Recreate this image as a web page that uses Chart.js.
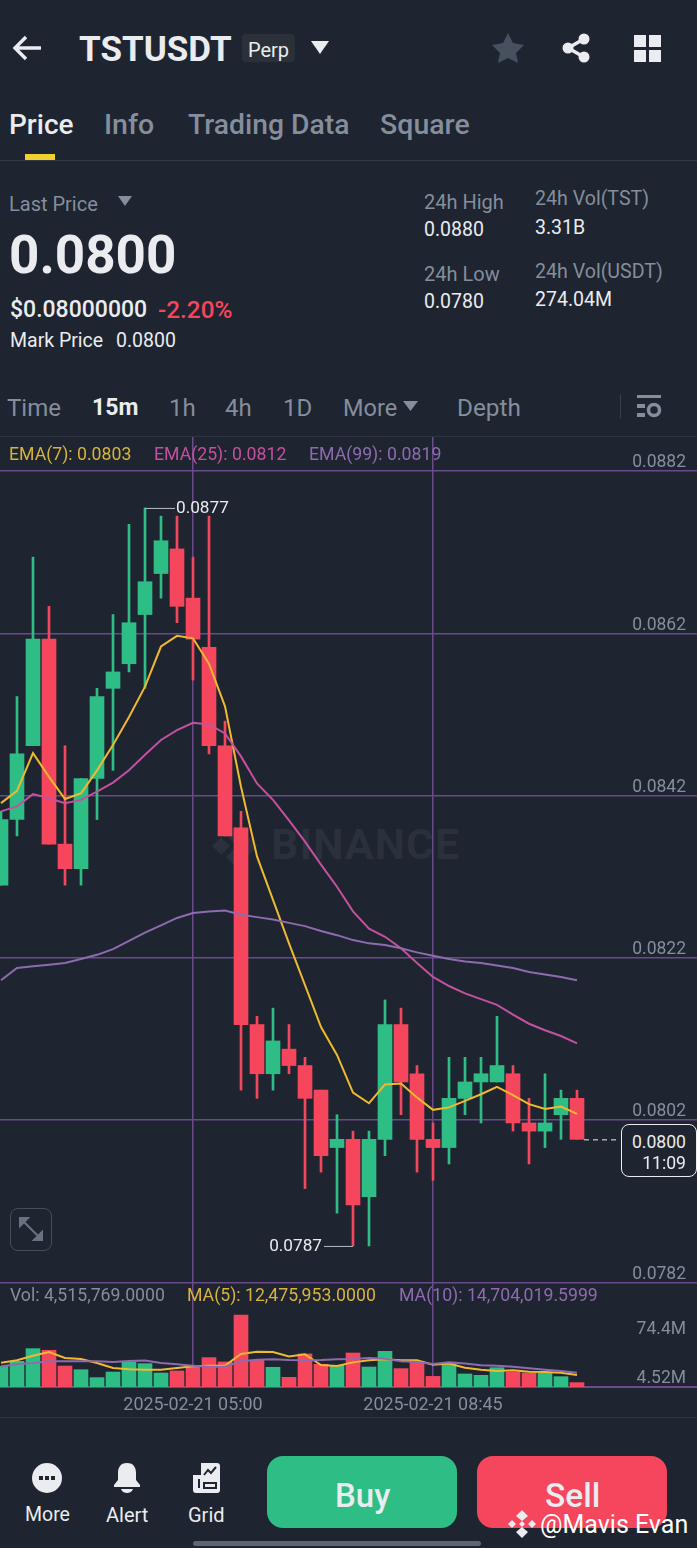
<!DOCTYPE html>
<html>
<head>
<meta charset="utf-8">
<title>TSTUSDT Perp</title>
<script src="https://cdn.jsdelivr.net/npm/chart.js@4"></script>
<style>
    html, body { margin: 0; padding: 0; background: #1e2430; }
    #page { position: relative; width: 697px; height: 1548px; overflow: hidden; background: #1e2430; font-family: Roboto, sans-serif; }
    #page canvas { position: absolute; left: 0; }
    .txt { position: absolute; white-space: nowrap; transform: translateY(-50%); line-height: 1.2; }
    .abs { position: absolute; }
    svg.abs { overflow: visible; }
</style>
</head>
<body>
<div id="page">
    <svg class="abs" style="left:212px;top:826px" width="50" height="40" viewBox="0 0 50 40"><path d="M23 0 L32 9 L23 18 L14 9Z M9 11 L18 20 L9 29 L0 20Z M37 11 L46 20 L37 29 L28 20Z M23 22 L32 31 L23 40 L14 31Z" fill="#2a303c"/></svg>
    <div class="txt" style="left:271px;top:845px;font-size:43px;font-weight:700;letter-spacing:1px;color:#2a303c">BINANCE</div>
    <canvas id="priceChart" width="697" height="847" style="top:437px"></canvas>
    <canvas id="volumeChart" width="697" height="133" style="top:1284px"></canvas>

    <svg class="abs" style="left:12px;top:34px" width="30" height="28" viewBox="0 0 30 28"><path d="M29 14H3M14 3L3 14L14 25" fill="none" stroke="#eaecef" stroke-width="3.4"/></svg>
    <div class="abs" style="left:242px;top:34px;width:53px;height:28px;border-radius:4px;background:#2b3139"></div>
    <svg class="abs" style="left:311px;top:41px" width="18" height="13"><path d="M0 0H18L9 13Z" fill="#eaecef"/></svg>
    <svg class="abs" style="left:492px;top:33px" width="32" height="30" viewBox="0 0 32 30"><path d="M16 0L21 10L32 12L24 20L26 30L16 25L6 30L8 20L0 12L11 10Z" fill="#47505f"/></svg>
    <svg class="abs" style="left:562px;top:33px" width="28" height="30" viewBox="0 0 28 30"><path d="M22 6L6 15L22 24" fill="none" stroke="#eaecef" stroke-width="3.5"/><circle cx="22" cy="6" r="5.5" fill="#eaecef"/><circle cx="6" cy="15" r="5.5" fill="#eaecef"/><circle cx="22" cy="24" r="5.5" fill="#eaecef"/></svg>
    <svg class="abs" style="left:634px;top:35px" width="27" height="27"><path d="M0 0H12V12H0ZM15 0H27V12H15ZM0 15H12V27H0ZM15 15H27V27H15Z" fill="#eaecef"/></svg>
    <div class="abs" style="left:25px;top:154px;width:30px;height:6px;background:#f0cf33"></div>
    <div class="abs" style="left:0;top:160px;width:697px;height:1px;background:#333a46"></div>
    <svg class="abs" style="left:118px;top:196px" width="14" height="10"><path d="M0 0H14L7 10Z" fill="#848e9c"/></svg>
    <svg class="abs" style="left:403px;top:401px" width="15" height="10"><path d="M0 0H15L7.5 10Z" fill="#848e9c"/></svg>
    <div class="abs" style="left:620px;top:394px;width:1px;height:24px;background:#3a414d"></div>
    <svg class="abs" style="left:637px;top:395px" width="24" height="24"><path d="M0 0H24V3H0ZM0 9H8V13H0ZM0 18H8V22H0Z" fill="#848e9c"/><circle cx="17" cy="15" r="5.5" fill="none" stroke="#848e9c" stroke-width="3.5"/></svg>
    <div class="abs" style="left:0;top:436px;width:697px;height:1px;background:#2d3340"></div>

    <div class="abs" style="left:10px;top:1208px;width:40px;height:41px;border:1.5px solid #474e5a;border-radius:8px"></div>
    <svg class="abs" style="left:19px;top:1217px" width="24" height="24"><path d="M1 1H9L1 9ZM23 23H15L23 15ZM5 5L19 19" fill="#6a7280" stroke="#6a7280" stroke-width="2"/></svg>
    <div class="abs" style="left:621px;top:1124px;width:74px;height:51px;border:1.2px solid #eaecef;border-radius:8px;background:#1e2430"></div>

    <div class="abs" style="left:0;top:1417px;width:697px;height:1px;background:#2d3340"></div>
    <svg class="abs" style="left:32px;top:1463px" width="30" height="30"><circle cx="15" cy="15" r="15" fill="#eaecef"/><path d="M7 13H11V17H7ZM13 13H17V17H13ZM19 13H23V17H19Z" fill="#1e2430"/></svg>
    <svg class="abs" style="left:113px;top:1463px" width="28" height="30" viewBox="0 0 28 30"><path d="M14 0C7 0 5 5 5 10V17L1 22V24H27V22L23 17V10C23 5 21 0 14 0ZM8 26H20C19 29 16 30 14 30C12 30 9 29 8 26Z" fill="#eaecef"/></svg>
    <svg class="abs" style="left:193px;top:1463px" width="27" height="30" viewBox="0 0 27 30"><path d="M8 0H24Q27 0 27 3V27Q27 30 24 30H3Q0 30 0 27V12H8Z" fill="#eaecef"/><path d="M11 12L15 7L18 10L23 4M6 16V25M11 20H23V25H11Z" fill="none" stroke="#1e2430" stroke-width="2"/></svg>
    <div class="abs" style="left:267px;top:1456px;width:190px;height:72px;border-radius:16px;background:#2ebd85"></div>
    <div class="abs" style="left:477px;top:1456px;width:190px;height:72px;border-radius:16px;background:#f6465d"></div>
    <svg class="abs" style="left:508px;top:1510px" width="28" height="28" viewBox="0 0 28 28"><path d="M14 0L20 6L14 11L8 6ZM4 10L8 14L4 18L0 14ZM24 10L28 14L24 18L20 14ZM14 17L20 22L14 28L8 22ZM14 11L17 14L14 17L11 14Z" fill="#eaecef"/></svg>
    <div class="abs" style="left:193px;top:1541px;width:288px;height:5px;border-radius:3px;background:#5e6673"></div>
</div>
<script>
// 15m candles, 02:00 to 11:00
const times = [
    '2025-02-21 02:00', '2025-02-21 02:15', '2025-02-21 02:30', '2025-02-21 02:45',
    '2025-02-21 03:00', '2025-02-21 03:15', '2025-02-21 03:30', '2025-02-21 03:45',
    '2025-02-21 04:00', '2025-02-21 04:15', '2025-02-21 04:30', '2025-02-21 04:45',
    '2025-02-21 05:00', '2025-02-21 05:15', '2025-02-21 05:30', '2025-02-21 05:45',
    '2025-02-21 06:00', '2025-02-21 06:15', '2025-02-21 06:30', '2025-02-21 06:45',
    '2025-02-21 07:00', '2025-02-21 07:15', '2025-02-21 07:30', '2025-02-21 07:45',
    '2025-02-21 08:00', '2025-02-21 08:15', '2025-02-21 08:30', '2025-02-21 08:45',
    '2025-02-21 09:00', '2025-02-21 09:15', '2025-02-21 09:30', '2025-02-21 09:45',
    '2025-02-21 10:00', '2025-02-21 10:15', '2025-02-21 10:30', '2025-02-21 10:45',
    '2025-02-21 11:00'
];
const opens = [0.0831, 0.0839, 0.0848, 0.0861, 0.0836, 0.0833, 0.0844, 0.0855, 0.0858, 0.0864, 0.0869, 0.0872, 0.0866, 0.0860, 0.0848, 0.0838, 0.0814, 0.0808, 0.0811, 0.0809, 0.0806, 0.0799, 0.0800, 0.0793, 0.0800, 0.0814, 0.0808, 0.0800, 0.0799, 0.0805, 0.0807, 0.0807, 0.0808, 0.0802, 0.0801, 0.0803, 0.0805];
const closes = [0.0839, 0.0847, 0.0861, 0.0836, 0.0833, 0.0844, 0.0854, 0.0857, 0.0863, 0.0868, 0.0873, 0.0865, 0.0861, 0.0848, 0.0837, 0.0814, 0.0808, 0.0812, 0.0809, 0.0805, 0.0798, 0.0800, 0.0792, 0.0800, 0.0814, 0.0807, 0.0800, 0.0799, 0.0805, 0.0807, 0.0808, 0.0809, 0.0802, 0.0801, 0.0802, 0.0805, 0.0800];
const highs = [0.0840, 0.0854, 0.0871, 0.0865, 0.0848, 0.0844, 0.0855, 0.0864, 0.0875, 0.0877, 0.0876, 0.0876, 0.0871, 0.0876, 0.0851, 0.0840, 0.0815, 0.0816, 0.0814, 0.0810, 0.0806, 0.0803, 0.0801, 0.0801, 0.0817, 0.0816, 0.0809, 0.0802, 0.0810, 0.0810, 0.0810, 0.0815, 0.0809, 0.0805, 0.0808, 0.0806, 0.0806];
const lows = [0.0831, 0.0837, 0.0848, 0.0836, 0.0831, 0.0831, 0.0839, 0.0845, 0.0857, 0.0855, 0.0866, 0.0863, 0.0856, 0.0847, 0.0837, 0.0806, 0.0805, 0.0806, 0.0808, 0.0794, 0.0796, 0.0791, 0.0787, 0.0787, 0.0798, 0.0803, 0.0796, 0.0795, 0.0797, 0.0803, 0.0802, 0.0807, 0.0801, 0.0797, 0.0799, 0.0800, 0.0800];
const ema7 = [0.0841, 0.08425, 0.08471, 0.08442, 0.08415, 0.08422, 0.0845, 0.08481, 0.08515, 0.08552, 0.08601, 0.08614, 0.08611, 0.0858, 0.08528, 0.0843, 0.08345, 0.08292, 0.08239, 0.08188, 0.08137, 0.08103, 0.08057, 0.08044, 0.08067, 0.08068, 0.08051, 0.08036, 0.08039, 0.08047, 0.08055, 0.08064, 0.08054, 0.08043, 0.08037, 0.0804, 0.08031];
const ema25 = [0.084, 0.08406, 0.08421, 0.08416, 0.0841, 0.08414, 0.08424, 0.08435, 0.0845, 0.08469, 0.08487, 0.08499, 0.08508, 0.08506, 0.08495, 0.08467, 0.08434, 0.08414, 0.08389, 0.08363, 0.08335, 0.08308, 0.08278, 0.08257, 0.08247, 0.08233, 0.08215, 0.08198, 0.08187, 0.08178, 0.08171, 0.08164, 0.08152, 0.08141, 0.08133, 0.08126, 0.08117];
const ema99 = [0.08194, 0.08209, 0.08211, 0.08213, 0.08215, 0.0822, 0.08225, 0.08232, 0.08242, 0.08252, 0.08261, 0.0827, 0.08276, 0.08278, 0.08279, 0.08274, 0.08271, 0.08268, 0.08264, 0.0826, 0.08254, 0.08249, 0.08243, 0.08239, 0.08237, 0.08233, 0.08228, 0.08224, 0.0822, 0.08217, 0.08215, 0.08212, 0.08209, 0.08204, 0.08201, 0.08198, 0.08194];
const volumes = [21.4, 26.6, 39.7, 38.0, 21.7, 17.9, 9.7, 15.5, 25.9, 24.2, 14.5, 16.6, 22.4, 30.4, 25.9, 74.4, 27.6, 20.4, 10.0, 34.2, 23.5, 22.4, 35.2, 20.7, 36.9, 19.0, 25.9, 11.0, 24.2, 13.5, 12.1, 20.0, 15.5, 14.5, 14.5, 10.7, 4.52];
const volumeMa5 = [25.2, 27.6, 32.4, 36.2, 30.0, 29.0, 24.8, 19.7, 18.3, 17.9, 17.9, 19.7, 21.4, 22.1, 22.1, 34.2, 36.6, 36.2, 31.7, 33.8, 22.8, 21.7, 25.5, 27.6, 28.6, 27.6, 27.6, 23.1, 24.2, 20.0, 17.9, 16.6, 17.3, 15.9, 15.5, 14.8, 12.48];
const volumeMa10 = [21.4, 23.5, 24.8, 26.6, 26.6, 26.6, 26.6, 25.9, 26.9, 27.3, 24.8, 23.5, 22.1, 21.0, 21.0, 26.6, 28.3, 28.6, 27.9, 27.6, 27.9, 28.6, 29.0, 30.0, 29.3, 26.6, 25.9, 23.8, 25.5, 24.2, 22.4, 22.1, 21.0, 19.3, 17.9, 16.6, 14.7];
const priceTicks = [0.08815, 0.08617, 0.08419, 0.08221, 0.08024, 0.07825];
const priceTickLabels = ['0.0882', '0.0862', '0.0842', '0.0822', '0.0802', '0.0782'];
const volumeTicks = [59.5, 8.2];
const volumeTickLabels = ['74.4M', '4.52M'];
const timeTicks = ['2025-02-21 05:00', '2025-02-21 08:45'];

const GREEN = '#2ebd85';
const RED = '#f6465d';
const GREY = '#848e9c';
const GRID = '#6a4a8a';
const GRID_WIDTH = 1.5;
const WHITE = '#eaecef';
const YELLOW = '#efba2f';
const PINK = '#c4519f';
const PURPLE = '#8e6bb0';

const page = document.getElementById('page');

function put(text, x, y, size, color, weight, right) {
    const el = document.createElement('div');
    el.className = 'txt';
    el.textContent = text;
    el.style.top = y + 'px';
    if (right) {
        el.style.right = (697 - x) + 'px';
    } else {
        el.style.left = x + 'px';
    }
    el.style.fontSize = size + 'px';
    el.style.color = color;
    el.style.fontWeight = weight || 400;
    page.append(el);
}

put('TSTUSDT', 79, 49.5, 35, WHITE, 700);
put('Perp', 248, 50, 20, WHITE);
put('Price', 9, 125, 28, WHITE, 500);
put('Info', 104, 125, 28.5, GREY, 500);
put('Trading Data', 188, 125, 28.3, GREY, 500);
put('Square', 380, 125, 28.5, GREY, 500);
put('Last Price', 9, 203.5, 20, GREY);
put('0.0800', 9, 256, 53, WHITE, 700);
put('$0.08000000', 10, 309.5, 23, WHITE, 500);
put('-2.20%', 158, 309.5, 24.3, RED, 500);
put('Mark Price', 10, 341, 19.5, WHITE);
put('0.0800', 116, 341, 19.5, WHITE);
put('24h High', 424, 201.5, 20, GREY);
put('0.0880', 424, 230, 19.5, WHITE);
put('24h Low', 424, 273.5, 20, GREY);
put('0.0780', 424, 302, 19.5, WHITE);
put('24h Vol(TST)', 535, 198.5, 19.6, GREY);
put('3.31B', 535, 228, 19.5, WHITE);
put('24h Vol(USDT)', 535, 271.5, 19.6, GREY);
put('274.04M', 535, 300, 19.5, WHITE);
put('Time', 7, 408, 24, GREY);
put('15m', 92, 408, 23, WHITE, 700);
put('1h', 169, 408, 24, GREY);
put('4h', 225, 408, 24, GREY);
put('1D', 283, 408, 24, GREY);
put('More', 343, 408, 23.5, GREY);
put('Depth', 457, 408, 24.3, GREY);
put('EMA(7): 0.0803', 9, 454.5, 17.7, '#d8b33c');
put('EMA(25): 0.0812', 154, 454.5, 17.7, PINK);
put('EMA(99): 0.0819', 309, 454.5, 17.7, PURPLE);
put('Vol: 4,515,769.0000', 10, 1295.5, 17.7, GREY);
put('MA(5): 12,475,953.0000', 187, 1295.5, 17.7, '#d8b33c');
put('MA(10): 14,704,019.5999', 399, 1295.5, 17.7, PURPLE);
put('0.0800', 686, 1142.5, 17.6, WHITE, 400, true);
put('11:09', 686, 1163.5, 17.6, WHITE, 400, true);
put('More', 25, 1515, 19.5, WHITE);
put('Alert', 106, 1515, 20, WHITE);
put('Grid', 188, 1515, 20, WHITE);
put('Buy', 335, 1496, 33, WHITE, 500);
put('Sell', 545, 1496, 33.5, WHITE, 500);
put('@Mavis Evan', 540, 1525, 25, '#ffffff');

// candle colour follows the direction of the bar
const candleColors = opens.map((open, i) => (closes[i] >= open ? GREEN : RED));
const series = (values) => values.map((y, x) => ({ x, y }));
const xRange = { min: -0.0625, max: 43.5 };

function lineSet(values, color, width) {
    return { type: 'line', data: series(values), borderColor: color, borderWidth: width || 2, pointRadius: 0, tension: 0, order: 0 };
}

function timeTickValues(scale) {
    scale.ticks = timeTicks.map((t) => ({ value: times.indexOf(t) }));
}

// mirrored axis, takes no room in the layout
function flatAxis(scale) {
    scale.width = 0;
    scale.paddingTop = 0;
    scale.paddingBottom = 0;
}

// high / low markers and the dashed last price line
const markers = {
    id: 'markers',
    afterDatasetsDraw(chart) {
        const { ctx, scales: { x, y } } = chart;
        const hi = highs.indexOf(Math.max(...highs));
        const lo = lows.indexOf(Math.min(...lows));
        ctx.save();
        ctx.font = '17.2px Roboto';
        ctx.textBaseline = 'middle';
        ctx.strokeStyle = '#b7bdc6';
        ctx.lineWidth = 1;
        ctx.beginPath();
        ctx.moveTo(x.getPixelForValue(hi), y.getPixelForValue(highs[hi]) + 0.5);
        ctx.lineTo(x.getPixelForValue(hi) + 30, y.getPixelForValue(highs[hi]) + 0.5);
        ctx.moveTo(x.getPixelForValue(lo), y.getPixelForValue(lows[lo]) + 0.5);
        ctx.lineTo(x.getPixelForValue(lo) - 29, y.getPixelForValue(lows[lo]) + 0.5);
        ctx.stroke();
        ctx.fillStyle = WHITE;
        ctx.textAlign = 'left';
        ctx.fillText(highs[hi].toFixed(4), x.getPixelForValue(hi) + 31, y.getPixelForValue(highs[hi]) + 1);
        ctx.textAlign = 'right';
        ctx.fillText(lows[lo].toFixed(4), x.getPixelForValue(lo) - 31, y.getPixelForValue(lows[lo]) + 1);
        const last = closes.length - 1;
        ctx.setLineDash([5, 4]);
        ctx.strokeStyle = WHITE;
        ctx.beginPath();
        ctx.moveTo(x.getPixelForValue(last) + 7, y.getPixelForValue(closes[last]) + 0.5);
        ctx.lineTo(620, y.getPixelForValue(closes[last]) + 0.5);
        ctx.stroke();
        ctx.restore();
    }
};

new Chart(document.getElementById('priceChart'), {
    type: 'bar',
    data: {
        datasets: [
            lineSet(ema99, PURPLE),
            lineSet(ema25, PINK),
            lineSet(ema7, YELLOW),
            {
                data: opens.map((open, x) => ({ x, y: [open, closes[x]] })),
                backgroundColor: candleColors,
                barThickness: 14,
                order: 1
            },
            {
                data: lows.map((low, x) => ({ x, y: [low, highs[x]] })),
                backgroundColor: candleColors,
                barThickness: 2,
                order: 2
            }
        ]
    },
    options: {
        responsive: false,
        animation: false,
        layout: { padding: 0 },
        plugins: { legend: { display: false }, tooltip: { enabled: false } },
        datasets: { bar: { grouped: false, borderSkipped: false } },
        scales: {
            x: {
                type: 'linear',
                offset: false,
                min: xRange.min,
                max: xRange.max,
                afterBuildTicks: timeTickValues,
                afterFit: (scale) => { scale.height = 0; },
                ticks: { display: false },
                border: { display: false },
                grid: { color: GRID, lineWidth: GRID_WIDTH, drawTicks: false, offset: false }
            },
            y: {
                position: 'right',
                min: 0.078236,
                max: 0.088565,
                afterBuildTicks: (scale) => { scale.ticks = priceTicks.map((value) => ({ value })); },
                afterFit: flatAxis,
                ticks: {
                    mirror: true,
                    padding: -11,
                    labelOffset: -8,
                    color: GREY,
                    font: { family: 'Roboto', size: 17.5 },
                    callback: (value) => priceTickLabels[priceTicks.indexOf(value)]
                },
                border: { display: false },
                grid: { color: GRID, lineWidth: GRID_WIDTH, drawTicks: false }
            }
        }
    },
    plugins: [markers]
});

new Chart(document.getElementById('volumeChart'), {
    type: 'bar',
    data: {
        datasets: [
            lineSet(volumeMa10, PURPLE),
            lineSet(volumeMa5, YELLOW),
            {
                data: series(volumes),
                backgroundColor: candleColors,
                barThickness: 14,
                order: 1
            }
        ]
    },
    options: {
        responsive: false,
        animation: false,
        layout: { padding: 0 },
        plugins: { legend: { display: false }, tooltip: { enabled: false } },
        scales: {
            x: {
                type: 'linear',
                offset: false,
                min: xRange.min,
                max: xRange.max,
                afterBuildTicks: timeTickValues,
                afterFit: (scale) => { scale.height = 30; },
                ticks: {
                    autoSkip: false,
                    maxRotation: 0,
                    padding: 8,
                    color: GREY,
                    font: { family: 'Roboto', size: 17.9 },
                    callback: (value) => times[value]
                },
                border: { display: true, color: GRID, width: 2 },
                grid: { color: GRID, lineWidth: GRID_WIDTH, drawTicks: false, offset: false }
            },
            y: {
                position: 'right',
                min: 0,
                max: 106.6,
                afterBuildTicks: (scale) => { scale.ticks = volumeTicks.map((value) => ({ value })); },
                afterFit: flatAxis,
                ticks: {
                    mirror: true,
                    padding: -11,
                    color: GREY,
                    font: { family: 'Roboto', size: 17.5 },
                    callback: (value) => volumeTickLabels[volumeTicks.indexOf(value)]
                },
                border: { display: false },
                grid: { display: false }
            }
        }
    }
});
</script>
</body>
</html>
